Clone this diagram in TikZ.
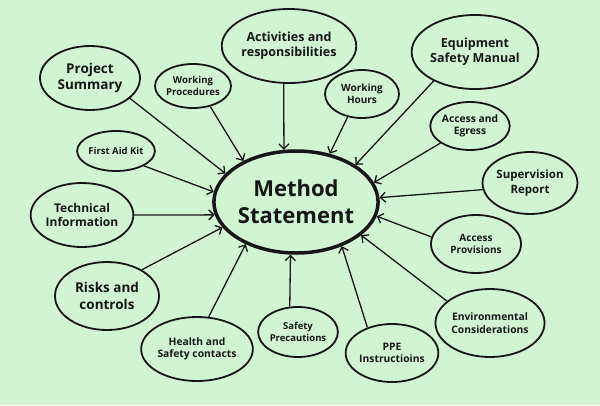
\documentclass[tikz,border=0pt]{standalone}
\usepackage{fontspec}
\setmainfont{Open Sans}
\usetikzlibrary{shapes.geometric,arrows.meta}
\definecolor{paper}{RGB}{209,245,211}
\definecolor{ink}{RGB}{22,22,22}
\tikzset{
  bubble/.style={draw=ink, text=ink, ellipse, line width=1.8pt, align=center, inner sep=0pt, font=\bfseries},
  hub/.style={bubble, line width=3.5pt},
  link/.style={draw=ink, line width=1.3pt, -{Straight Barb[length=5pt,width=10pt,line width=1.3pt]}}
}
\newcommand{\fs}[1]{\fontsize{#1}{1.22\dimexpr#1pt\relax}\selectfont\bfseries}
\begin{document}
\begin{tikzpicture}[x=1pt,y=-1pt]
\fill[paper] (0,0) rectangle (600,405);
\useasboundingbox (0,0) rectangle (600,405);

\node[hub, minimum width=152, minimum height=102, font=\fs{22}] (ms) at (296,202) {Method\\Statement};

\node[bubble, minimum width=100, minimum height=64, font=\fs{13.5}] (ps) at (90,78) {Project\\Summary};
\node[bubble, minimum width=72, minimum height=44, font=\fs{9.6}] (wp) at (193,86) {Working\\Procedures};
\node[bubble, minimum width=116, minimum height=74, font=\fs{12.5}] (ar) at (289,46) {Activities and\\responsibilities};
\node[bubble, minimum width=64, minimum height=40, font=\fs{9.5}] (fa) at (116,151) {First Aid Kit};
\node[bubble, minimum width=74, minimum height=48, font=\fs{10}] (wh) at (362,94) {Working\\Hours};
\node[bubble, minimum width=116, minimum height=74, font=\fs{12.5}] (es) at (475,52) {Equipment\\Safety Manual};
\node[bubble, minimum width=76, minimum height=48, font=\fs{10.3}] (ae) at (470,126) {Access and\\Egress};
\node[bubble, minimum width=94, minimum height=62, font=\fs{11.5}] (sr) at (530,183) {Supervision\\Report};
\node[bubble, minimum width=98, minimum height=64, font=\fs{12}] (ti) at (82,215) {Technical\\Information};
\node[bubble, minimum width=104, minimum height=68, font=\fs{13.5}] (rc) at (107,296) {Risks and\\controls};
\node[bubble, minimum width=100, minimum height=64, font=\fs{10.3}] (hs) at (197,349) {Health and\\Safety contacts};
\node[bubble, minimum width=76, minimum height=50, font=\fs{9.5}] (sp) at (298,332) {Safety\\Precautions};
\node[bubble, minimum width=88, minimum height=58, font=\fs{10.3}] (pi) at (392,353) {PPE\\Instructioins};
\node[bubble, minimum width=104, minimum height=68, font=\fs{10.3}] (ec) at (490,323) {Environmental\\Considerations};
\node[bubble, minimum width=90, minimum height=58, font=\fs{10}] (ap) at (476,244) {Access\\Provisions};

\draw[link] (ps.-27) -- (ms.158);
\draw[link] (wp.-50) -- (ms.142);
\draw[link] (ar.-98) -- (ms.103);
\draw[link] (fa.-28) -- (ms.173);
\draw[link] (wh.-122) -- (ms.55);
\draw[link] (es.-145) -- (ms.32);
\draw[link] (ae.-150) -- (ms.14);
\draw[link] (sr.-172) -- (ms.3);
\draw[link] (ti.0) -- (ms.-171);
\draw[link] (rc.37) -- (ms.-161);
\draw[link] (hs.70) -- (ms.-140);
\draw[link] (sp.108) -- (ms.-96);
\draw[link] (pi.134) -- (ms.-44);
\draw[link] (ec.153) -- (ms.-27);
\draw[link] (ap.171) -- (ms.-10);
\end{tikzpicture}
\end{document}
